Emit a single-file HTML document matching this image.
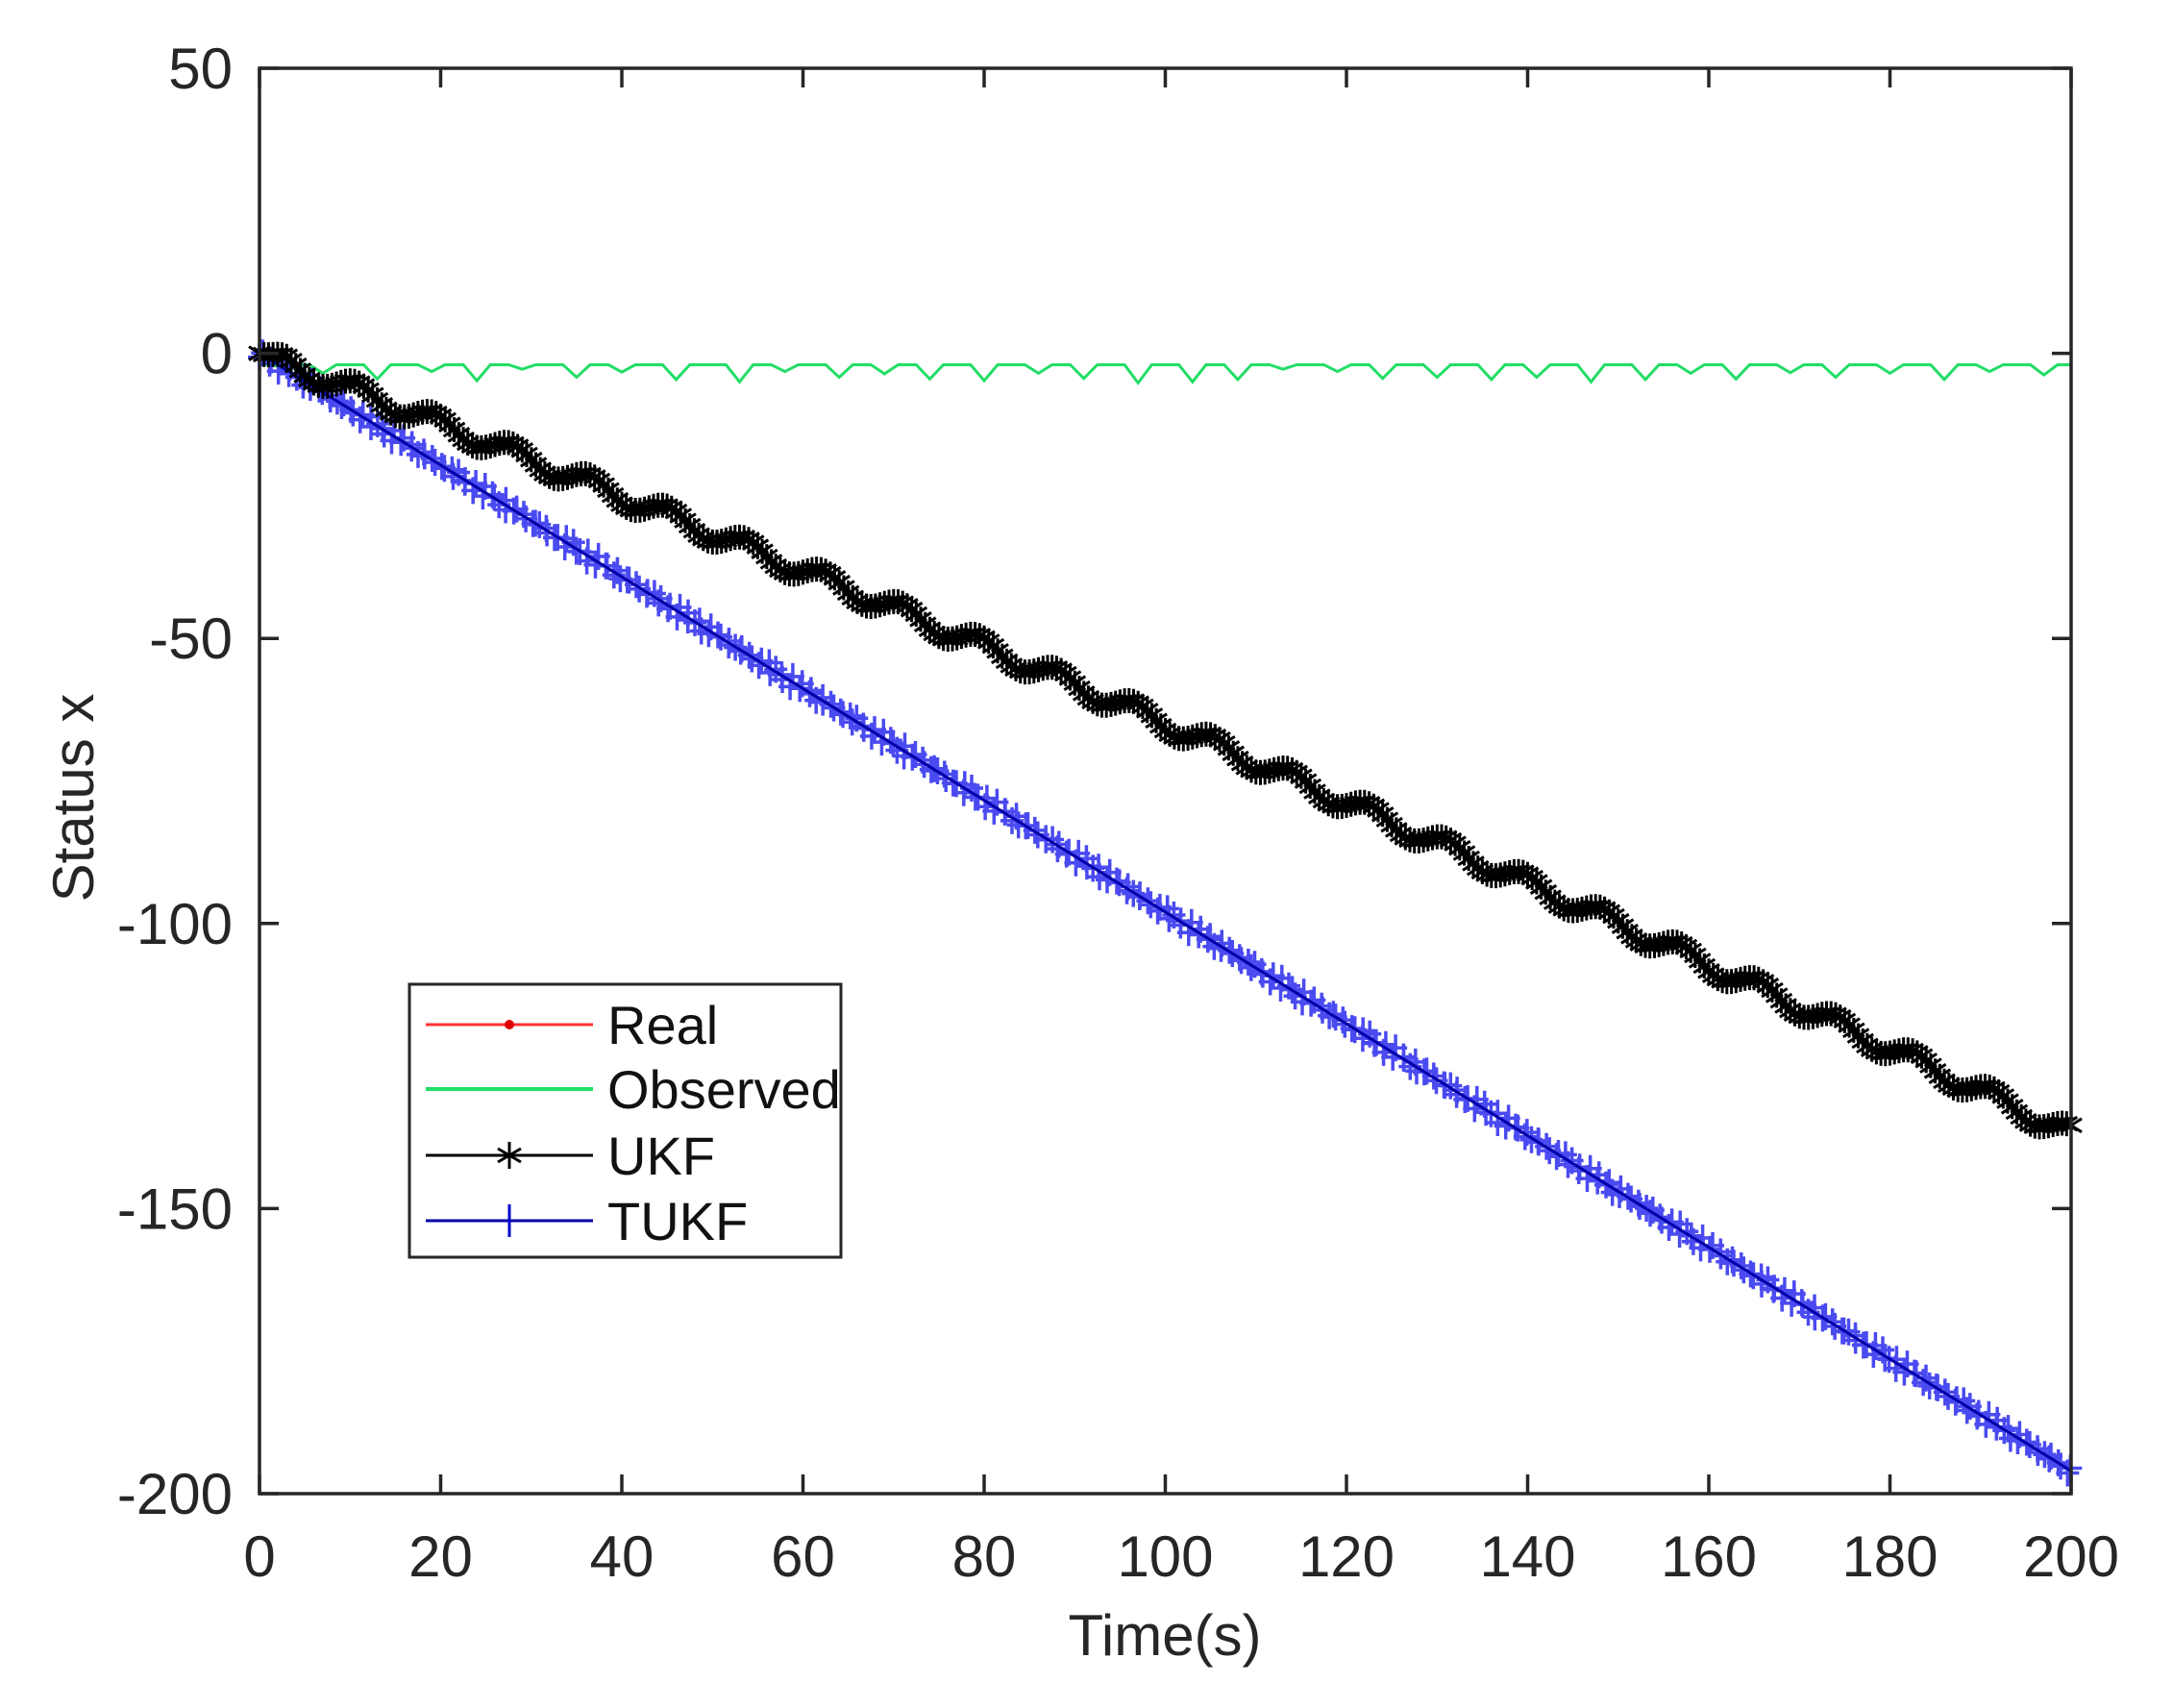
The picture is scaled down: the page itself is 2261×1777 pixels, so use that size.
<!DOCTYPE html>
<html><head><meta charset="utf-8"><style>
html,body{margin:0;padding:0;background:#fff;}
svg{display:block;font-family:"Liberation Sans",Arial,sans-serif;}
</style></head><body>
<svg id="s" width="2261" height="1777" viewBox="0 0 2261 1777" xmlns="http://www.w3.org/2000/svg">
<rect width="2261" height="1777" fill="#fff"/>
<g id="data"></g>
<g id="axes" stroke="#262626" stroke-width="3.5" fill="none"></g>
<g id="labels" fill="#262626" font-size="60"></g>
<text x="1212" y="1722" font-size="60" text-anchor="middle" fill="#262626">Time(s)</text>
<text transform="translate(97,830) rotate(-90)" font-size="60" text-anchor="middle" fill="#262626">Status x</text>
<g>
<rect x="426" y="1024" width="449" height="284" fill="#fff" stroke="#262626" stroke-width="3"/>
<line x1="443" y1="1066" x2="617" y2="1066" stroke="#ff3030" stroke-width="3"/>
<circle cx="530" cy="1066" r="5" fill="#e00000"/>
<line x1="443" y1="1133" x2="617" y2="1133" stroke="#22dd66" stroke-width="4"/>
<line x1="443" y1="1202" x2="617" y2="1202" stroke="#000" stroke-width="3"/>
<path d="M530 1188V1216M518 1195L542 1209M518 1209L542 1195" stroke="#000" stroke-width="3"/>
<line x1="443" y1="1270" x2="617" y2="1270" stroke="#0000aa" stroke-width="3"/>
<line x1="530" y1="1253" x2="530" y2="1287" stroke="#0000cc" stroke-width="3"/>
<g font-size="56" fill="#111">
<text x="632" y="1086">Real</text>
<text x="632" y="1153">Observed</text>
<text x="632" y="1222">UKF</text>
<text x="632" y="1290">TUKF</text>
</g>
</g>
</svg>
<script>
(function(){
var L=270,R=2155,T=71,B=1554;
function X(t){return L+t*(R-L)/200;}
function Y(v){return T+(50-v)*(B-T)/250;}
var ns="http://www.w3.org/2000/svg";
function el(p,n,a){var e=document.createElementNS(ns,n);for(var k in a)e.setAttribute(k,a[k]);p.appendChild(e);return e;}
var ax=document.getElementById('axes'),lb=document.getElementById('labels'),dg=document.getElementById('data');
el(ax,'rect',{x:L,y:T,width:R-L,height:B-T});
var d='';
for(var t=0;t<=200;t+=20){var x=X(t);d+='M'+x+' '+B+'v-20M'+x+' '+T+'v20';
 var tx=el(lb,'text',{x:x,y:1640,'text-anchor':'middle'});tx.textContent=t;}
for(var v=50;v>=-200;v-=50){var y=Y(v);d+='M'+L+' '+y+'h20M'+R+' '+y+'h-20';
 var ty=el(lb,'text',{x:242,y:y+21,'text-anchor':'end'});ty.textContent=v;}
el(ax,'path',{d:d});
var dips=[3,7,13,19,24,29,35,40,46,53,58,64,69,74,80,86,91,97,103,108,113,119,124,130,136,141,147,153,158,163,169,174,180,186,191,197];
var depth=[1,1.5,2.5,1.2,2.8,0.8,2.2,1.3,2.6,3,1.2,2.2,1.6,2.5,2.8,1.5,2.4,3.2,3,2.6,0.8,1.2,2.4,2.2,2.6,2.2,3,2.6,1.5,2.5,1.4,2.2,1.5,2.6,1.2,1.8];
var obs=[];
for(var t=0;t<=200;t+=0.5){var v=-2;for(var i=0;i<dips.length;i++){var dd=Math.abs(t-dips[i]);if(dd<1.5)v=Math.min(v,-2-depth[i]*(1-dd/1.5));}
 obs.push(X(t).toFixed(1)+' '+Y(v).toFixed(1));}
el(dg,'path',{d:'M'+obs.join('L'),stroke:'#22dd66','stroke-width':3,fill:'none'});
function tu(t){return -0.98*t;}
var rp=[];for(var t=0;t<=200;t+=1)rp.push(X(t).toFixed(1)+' '+Y(tu(t)).toFixed(1));
el(dg,'path',{d:'M'+rp.join('L'),stroke:'#ff2020','stroke-width':3,fill:'none'});
var pm='';for(var t=0;t<=200;t+=0.5){var x=X(t)+Math.sin(t*7)*4,y=Y(tu(t))+Math.cos(t*5)*4;pm+='M'+(x-12).toFixed(1)+' '+y.toFixed(1)+'h24M'+x.toFixed(1)+' '+(y-14).toFixed(1)+'v28';}
el(dg,'path',{d:pm,stroke:'#2a2aee','stroke-width':3.5,fill:'none','stroke-opacity':0.85});
el(dg,'path',{d:'M'+rp.join('L'),stroke:'#0000aa','stroke-width':3,fill:'none'});
function uk(t){var base=-0.615*t-0.00035*t*t;var w=t<3?t/3:1;return base+1.6*w*Math.sin(2*Math.PI*t/8.6);}
var up=[];for(var t=0;t<=200;t+=0.5)up.push(X(t).toFixed(1)+' '+Y(uk(t)).toFixed(1));
el(dg,'path',{d:'M'+up.join('L'),stroke:'#000','stroke-width':3,fill:'none'});
var am='';for(var t=0;t<=200;t+=0.5){var x=X(t),y=Y(uk(t));am+='M'+x.toFixed(1)+' '+(y-13).toFixed(1)+'v26M'+(x-11).toFixed(1)+' '+(y-7).toFixed(1)+'l22 14M'+(x-11).toFixed(1)+' '+(y+7).toFixed(1)+'l22 -14';}
el(dg,'path',{d:am,stroke:'#000','stroke-width':3,fill:'none'});
})();
</script>
</body></html>
